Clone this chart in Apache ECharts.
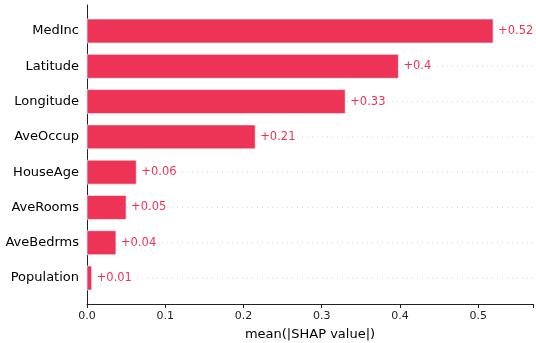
<!DOCTYPE html>
<html>
<head>
<meta charset="utf-8">
<script src="https://cdn.jsdelivr.net/npm/echarts@6/dist/echarts.min.js"></script>
<style>
  html, body { margin: 0; padding: 0; background: #fff; }
  #chart { width: 536px; height: 343px; }
</style>
</head>
<body>
<div id="chart"></div>
<script>
// Feature names, top to bottom
const features = ['MedInc', 'Latitude', 'Longitude', 'AveOccup', 'HouseAge', 'AveRooms', 'AveBedrms', 'Population'];
// mean(|SHAP value|) per feature
const meanAbsShap = [0.519, 0.398, 0.330, 0.215, 0.063, 0.050, 0.037, 0.006];
// x-axis ticks
const xTicks = [0, 0.1, 0.2, 0.3, 0.4, 0.5];

const BAR_COLOR = '#ed3457';
const FONT = 'DejaVu Sans';

const chart = echarts.init(document.getElementById('chart'), null, { renderer: 'canvas' });

const rows = meanAbsShap.map((v, i) => [v, i]);

function fmt(v) {
  return '+' + String(parseFloat(v.toFixed(2)));
}

chart.setOption({
  animation: false,
  backgroundColor: '#fff',
  grid: { left: 87, right: 3, top: 5, bottom: 39, containLabel: false, outerBoundsMode: 'none' },
  xAxis: {
    type: 'value',
    min: 0,
    max: 0.570,
    interval: 0.1,
    name: 'mean(|SHAP value|)',
    nameLocation: 'middle',
    nameGap: 24,
    nameTextStyle: { fontFamily: FONT, fontSize: 13, color: '#000' },
    axisLine: { show: true, onZero: false, lineStyle: { color: '#222', width: 1 } },
    axisTick: { show: true, length: 4, lineStyle: { color: '#222' } },
    axisLabel: {
      fontFamily: FONT, fontSize: 11, color: '#222', margin: 7,
      customValues: xTicks,
      formatter: v => v.toFixed(1)
    },
    splitLine: { show: false }
  },
  yAxis: {
    type: 'value',
    inverse: true,
    min: -0.737,
    max: 7.736,
    axisLine: { show: true, onZero: false, lineStyle: { color: '#222', width: 1 } },
    axisTick: { show: false },
    splitLine: { show: false },
    axisLabel: {
      fontFamily: FONT, fontSize: 13, color: '#000', margin: 8,
      customValues: features.map((_, i) => i),
      formatter: v => features[Math.round(v)] || ''
    }
  },
  series: [{
    type: 'custom',
    coordinateSystem: 'cartesian2d',
    encode: { x: 0, y: 1 },
    clip: false,
    data: rows,
    renderItem: function (params, api) {
      const val = api.value(0);
      const idx = api.value(1);
      const start = api.coord([0, idx]);
      const end = api.coord([val, idx]);
      const far = api.coord([0.570, idx]);
      const h = api.size([0, 0.68])[1];
      return {
        type: 'group',
        children: [
          {
            type: 'line',
            shape: { x1: start[0], y1: start[1], x2: far[0], y2: far[1] },
            style: { stroke: '#d4d4d4', lineWidth: 1, lineDash: [1, 4] },
            z2: 0
          },
          {
            type: 'rect',
            shape: { x: start[0], y: start[1] - h / 2, width: end[0] - start[0], height: h },
            style: { fill: BAR_COLOR, stroke: '#fff', lineWidth: 0.6 },
            z2: 2
          },
          {
            type: 'text',
            x: end[0] + 4,
            y: end[1],
            style: {
              text: fmt(val),
              fill: BAR_COLOR,
              fontFamily: FONT,
              fontSize: 11.5,
              align: 'left',
              verticalAlign: 'middle',
              backgroundColor: '#fff',
              padding: [0, 1, 0, 1]
            },
            z2: 3
          }
        ]
      };
    }
  }]
});
</script>
</body>
</html>
